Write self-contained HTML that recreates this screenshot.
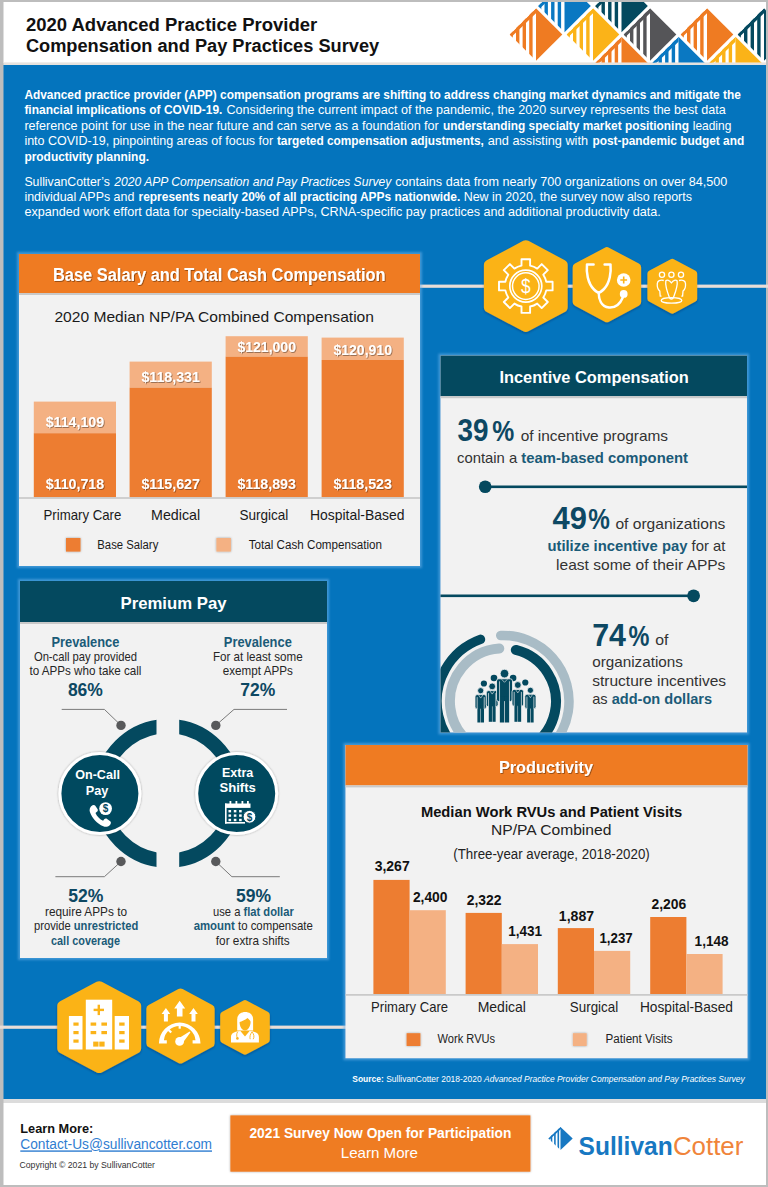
<!DOCTYPE html><html><head><meta charset="utf-8"><title>2020 Advanced Practice Provider Compensation and Pay Practices Survey</title>
<style>html,body{margin:0;padding:0;background:#fff;}body{width:768px;height:1187px;overflow:hidden;}svg{display:block;}text{font-family:'Liberation Sans', Arial, sans-serif;}</style></head><body>
<svg width="768" height="1187" viewBox="0 0 768 1187">
<defs>
<filter id="sh" x="-10%" y="-10%" width="120%" height="120%"><feMorphology in="SourceAlpha" operator="dilate" radius="1.5" result="d"/><feGaussianBlur in="d" stdDeviation="1" result="b"/><feFlood flood-color="#6fb3ea" flood-opacity="0.55"/><feComposite in2="b" operator="in" result="g"/><feMerge><feMergeNode in="g"/><feMergeNode in="SourceGraphic"/></feMerge></filter>
<filter id="sh2" x="-60%" y="-60%" width="220%" height="220%"><feDropShadow dx="0" dy="1.2" stdDeviation="1.2" flood-color="#00223a" flood-opacity="0.35"/></filter>
<filter id="ts" x="-10%" y="-30%" width="120%" height="160%"><feDropShadow dx="0.8" dy="0.8" stdDeviation="0.5" flood-color="#000" flood-opacity="0.45"/></filter>
<filter id="cs" x="-20%" y="-20%" width="140%" height="140%"><feDropShadow dx="0" dy="0" stdDeviation="1.2" flood-color="#000" flood-opacity="0.35"/></filter>
<clipPath id="hdr"><rect x="3" y="2" width="763" height="60.4"/></clipPath>
</defs>
<rect x="0" y="0" width="768" height="1187" fill="#bdbdbd"/>
<rect x="3.5" y="2" width="762.5" height="61" fill="#ffffff"/>
<rect x="3.5" y="62.4" width="762.5" height="2.6" fill="#e6e2de"/>
<rect x="3.5" y="65" width="762.5" height="1034" fill="#0474bd"/>
<rect x="3.5" y="1099" width="762.5" height="4" fill="#dcdcdc"/>
<rect x="3.5" y="1103" width="762.5" height="82" fill="#ffffff"/>
<text x="25.9" y="30.8" font-size="18" fill="#111" font-weight="bold" textLength="291.3" lengthAdjust="spacingAndGlyphs">2020 Advanced Practice Provider</text>
<text x="25.9" y="51.9" font-size="18" fill="#111" font-weight="bold" textLength="353.3" lengthAdjust="spacingAndGlyphs">Compensation and Pay Practices Survey</text>
<g clip-path="url(#hdr)">
<polygon points="536,8.2 562.3,34.5 536,60.8" fill="#ef7b22"/>
<clipPath id="dl0"><polygon points="509.7,34.5 536,8.2 536,60.8"/></clipPath>
<g clip-path="url(#dl0)" fill="#ef7b22"><polygon points="508.7,35.5 537,7.199999999999999 537,12.2 508.7,39.5"/><rect x="529.20" y="6.199999999999999" width="3.4" height="56.6"/><rect x="522.60" y="6.199999999999999" width="3.4" height="56.6"/><rect x="516.00" y="6.199999999999999" width="3.4" height="56.6"/><rect x="509.40" y="6.199999999999999" width="3.4" height="56.6"/></g>
<polygon points="593,8.2 619.3,34.5 593,60.8" fill="#fbb318"/>
<clipPath id="dl1"><polygon points="566.7,34.5 593,8.2 593,60.8"/></clipPath>
<g clip-path="url(#dl1)" fill="#fbb318"><polygon points="565.7,35.5 594,7.199999999999999 594,12.2 565.7,39.5"/><rect x="586.20" y="6.199999999999999" width="3.4" height="56.6"/><rect x="579.60" y="6.199999999999999" width="3.4" height="56.6"/><rect x="573.00" y="6.199999999999999" width="3.4" height="56.6"/><rect x="566.40" y="6.199999999999999" width="3.4" height="56.6"/></g>
<polygon points="650,8.2 676.3,34.5 650,60.8" fill="#555558"/>
<clipPath id="dl2"><polygon points="623.7,34.5 650,8.2 650,60.8"/></clipPath>
<g clip-path="url(#dl2)" fill="#555558"><polygon points="622.7,35.5 651,7.199999999999999 651,12.2 622.7,39.5"/><rect x="643.20" y="6.199999999999999" width="3.4" height="56.6"/><rect x="636.60" y="6.199999999999999" width="3.4" height="56.6"/><rect x="630.00" y="6.199999999999999" width="3.4" height="56.6"/><rect x="623.40" y="6.199999999999999" width="3.4" height="56.6"/></g>
<polygon points="707,8.2 733.3,34.5 707,60.8" fill="#ef7b22"/>
<clipPath id="dl3"><polygon points="680.7,34.5 707,8.2 707,60.8"/></clipPath>
<g clip-path="url(#dl3)" fill="#ef7b22"><polygon points="679.7,35.5 708,7.199999999999999 708,12.2 679.7,39.5"/><rect x="700.20" y="6.199999999999999" width="3.4" height="56.6"/><rect x="693.60" y="6.199999999999999" width="3.4" height="56.6"/><rect x="687.00" y="6.199999999999999" width="3.4" height="56.6"/><rect x="680.40" y="6.199999999999999" width="3.4" height="56.6"/></g>
<polygon points="764,8.2 790.3,34.5 764,60.8" fill="#04495f"/>
<clipPath id="dl4"><polygon points="737.7,34.5 764,8.2 764,60.8"/></clipPath>
<g clip-path="url(#dl4)" fill="#04495f"><polygon points="736.7,35.5 765,7.199999999999999 765,12.2 736.7,39.5"/><rect x="757.20" y="6.199999999999999" width="3.4" height="56.6"/><rect x="750.60" y="6.199999999999999" width="3.4" height="56.6"/><rect x="744.00" y="6.199999999999999" width="3.4" height="56.6"/><rect x="737.40" y="6.199999999999999" width="3.4" height="56.6"/></g>
<polygon points="564.5,-20.3 590.8,6 564.5,32.3" fill="#0a78c2"/>
<clipPath id="dl5"><polygon points="538.2,6 564.5,-20.3 564.5,32.3"/></clipPath>
<g clip-path="url(#dl5)" fill="#0a78c2"><polygon points="537.2,7 565.5,-21.3 565.5,-16.3 537.2,11.0"/><rect x="557.70" y="-22.3" width="3.4" height="56.6"/><rect x="551.10" y="-22.3" width="3.4" height="56.6"/><rect x="544.50" y="-22.3" width="3.4" height="56.6"/><rect x="537.90" y="-22.3" width="3.4" height="56.6"/></g>
<polygon points="621.5,-20.3 647.8,6 621.5,32.3" fill="#04495f"/>
<clipPath id="dl6"><polygon points="595.2,6 621.5,-20.3 621.5,32.3"/></clipPath>
<g clip-path="url(#dl6)" fill="#04495f"><polygon points="594.2,7 622.5,-21.3 622.5,-16.3 594.2,11.0"/><rect x="614.70" y="-22.3" width="3.4" height="56.6"/><rect x="608.10" y="-22.3" width="3.4" height="56.6"/><rect x="601.50" y="-22.3" width="3.4" height="56.6"/><rect x="594.90" y="-22.3" width="3.4" height="56.6"/></g>
<polygon points="621.5,36.7 647.8,63 621.5,89.3" fill="#ef7b22"/>
<clipPath id="dl7"><polygon points="595.2,63 621.5,36.7 621.5,89.3"/></clipPath>
<g clip-path="url(#dl7)" fill="#ef7b22"><polygon points="594.2,64 622.5,35.7 622.5,40.7 594.2,68.0"/><rect x="614.70" y="34.7" width="3.4" height="56.6"/><rect x="608.10" y="34.7" width="3.4" height="56.6"/><rect x="601.50" y="34.7" width="3.4" height="56.6"/><rect x="594.90" y="34.7" width="3.4" height="56.6"/></g>
<polygon points="678.5,36.7 704.8,63 678.5,89.3" fill="#0a78c2"/>
<clipPath id="dl8"><polygon points="652.2,63 678.5,36.7 678.5,89.3"/></clipPath>
<g clip-path="url(#dl8)" fill="#0a78c2"><polygon points="651.2,64 679.5,35.7 679.5,40.7 651.2,68.0"/><rect x="671.70" y="34.7" width="3.4" height="56.6"/><rect x="665.10" y="34.7" width="3.4" height="56.6"/><rect x="658.50" y="34.7" width="3.4" height="56.6"/><rect x="651.90" y="34.7" width="3.4" height="56.6"/></g>
<polygon points="735.5,36.7 761.8,63 735.5,89.3" fill="#fbb318"/>
<clipPath id="dl9"><polygon points="709.2,63 735.5,36.7 735.5,89.3"/></clipPath>
<g clip-path="url(#dl9)" fill="#fbb318"><polygon points="708.2,64 736.5,35.7 736.5,40.7 708.2,68.0"/><rect x="728.70" y="34.7" width="3.4" height="56.6"/><rect x="722.10" y="34.7" width="3.4" height="56.6"/><rect x="715.50" y="34.7" width="3.4" height="56.6"/><rect x="708.90" y="34.7" width="3.4" height="56.6"/></g>
</g>
<text x="24.4" y="99.0" font-size="13" fill="#ffffff" font-weight="bold" textLength="716.5" lengthAdjust="spacingAndGlyphs">Advanced practice provider (APP) compensation programs are shifting to address changing market dynamics and mitigate the</text>
<text x="24.4" y="114.4" font-size="13" fill="#ffffff" font-weight="bold" textLength="198.0" lengthAdjust="spacingAndGlyphs">financial implications of COVID-19.</text>
<text x="226.4" y="114.4" font-size="13" fill="#ffffff" textLength="499.4" lengthAdjust="spacingAndGlyphs">Considering the current impact of the pandemic, the 2020 survey represents the best data</text>
<text x="24.4" y="129.8" font-size="13" fill="#ffffff" textLength="414.4" lengthAdjust="spacingAndGlyphs">reference point for use in the near future and can serve as a foundation for</text>
<text x="442.9" y="129.8" font-size="13" fill="#ffffff" font-weight="bold" textLength="246.0" lengthAdjust="spacingAndGlyphs">understanding specialty market positioning</text>
<text x="692.8" y="129.8" font-size="13" fill="#ffffff" textLength="38.5" lengthAdjust="spacingAndGlyphs">leading</text>
<text x="24.4" y="145.2" font-size="13" fill="#ffffff" textLength="248.8" lengthAdjust="spacingAndGlyphs">into COVID-19, pinpointing areas of focus for</text>
<text x="276.9" y="145.2" font-size="13" fill="#ffffff" font-weight="bold" textLength="206.9" lengthAdjust="spacingAndGlyphs">targeted compensation adjustments,</text>
<text x="487.7" y="145.2" font-size="13" fill="#ffffff" textLength="100.3" lengthAdjust="spacingAndGlyphs">and assisting with</text>
<text x="592.4" y="145.2" font-size="13" fill="#ffffff" font-weight="bold" textLength="151.8" lengthAdjust="spacingAndGlyphs">post-pandemic budget and</text>
<text x="24.4" y="160.6" font-size="13" fill="#ffffff" font-weight="bold" textLength="124.6" lengthAdjust="spacingAndGlyphs">productivity planning.</text>
<text x="24.4" y="185.6" font-size="13" fill="#ffffff" textLength="85.5" lengthAdjust="spacingAndGlyphs">SullivanCotter’s</text>
<text x="114.3" y="185.6" font-size="13" fill="#ffffff" font-style="italic" textLength="277.0" lengthAdjust="spacingAndGlyphs">2020 APP Compensation and Pay Practices Survey</text>
<text x="395.2" y="185.6" font-size="13" fill="#ffffff" textLength="332.2" lengthAdjust="spacingAndGlyphs">contains data from nearly 700 organizations on over 84,500</text>
<text x="24.4" y="201.0" font-size="13" fill="#ffffff" textLength="110.0" lengthAdjust="spacingAndGlyphs">individual APPs and</text>
<text x="138.5" y="201.0" font-size="13" fill="#ffffff" font-weight="bold" textLength="321.8" lengthAdjust="spacingAndGlyphs">represents nearly 20% of all practicing APPs nationwide.</text>
<text x="463.7" y="201.0" font-size="13" fill="#ffffff" textLength="228.2" lengthAdjust="spacingAndGlyphs">New in 2020, the survey now also reports</text>
<text x="24.4" y="216.4" font-size="13" fill="#ffffff" textLength="636.4" lengthAdjust="spacingAndGlyphs">expanded work effort data for specialty-based APPs, CRNA-specific pay practices and additional productivity data.</text>
<rect x="420" y="284.6" width="348" height="3.2" fill="#e8ddd7"/>
<rect x="0" y="1025.6" width="346" height="3.2" fill="#e8ddd7"/>
<g filter="url(#sh)"><rect x="19" y="254" width="401" height="312" fill="#f2f2f2"/></g>
<rect x="19" y="254" width="401" height="39" fill="#ef7b22"/>
<rect x="19" y="293" width="401" height="2" fill="#c9c9c9"/>
<text x="219.3" y="281.3" font-size="17.5" fill="#fff" font-weight="bold" text-anchor="middle" textLength="332.6" lengthAdjust="spacingAndGlyphs" filter="url(#ts)">Base Salary and Total Cash Compensation</text>
<text x="214.2" y="321.5" font-size="15" fill="#1a1a1a" text-anchor="middle" textLength="319.5" lengthAdjust="spacingAndGlyphs">2020 Median NP/PA Combined Compensation</text>
<rect x="33.8" y="401.6" width="82.2" height="31.599999999999966" fill="#f4b183"/>
<rect x="33.8" y="433.2" width="82.2" height="64.0" fill="#ed7d31"/>
<text x="74.9" y="426.8" font-size="14" fill="#fff" font-weight="bold" text-anchor="middle" textLength="58.5" lengthAdjust="spacingAndGlyphs" filter="url(#ts)">$114,109</text>
<text x="74.9" y="488.6" font-size="14" fill="#fff" font-weight="bold" text-anchor="middle" textLength="58.5" lengthAdjust="spacingAndGlyphs" filter="url(#ts)">$110,718</text>
<rect x="129.6" y="361.6" width="82.2" height="26.0" fill="#f4b183"/>
<rect x="129.6" y="387.6" width="82.2" height="109.59999999999997" fill="#ed7d31"/>
<text x="170.7" y="382.3" font-size="14" fill="#fff" font-weight="bold" text-anchor="middle" textLength="58.5" lengthAdjust="spacingAndGlyphs" filter="url(#ts)">$118,331</text>
<text x="170.7" y="488.6" font-size="14" fill="#fff" font-weight="bold" text-anchor="middle" textLength="58.5" lengthAdjust="spacingAndGlyphs" filter="url(#ts)">$115,627</text>
<rect x="225.6" y="336.2" width="82.2" height="20.400000000000034" fill="#f4b183"/>
<rect x="225.6" y="356.6" width="82.2" height="140.59999999999997" fill="#ed7d31"/>
<text x="266.7" y="351.9" font-size="14" fill="#fff" font-weight="bold" text-anchor="middle" textLength="58.5" lengthAdjust="spacingAndGlyphs" filter="url(#ts)">$121,000</text>
<text x="266.7" y="488.6" font-size="14" fill="#fff" font-weight="bold" text-anchor="middle" textLength="58.5" lengthAdjust="spacingAndGlyphs" filter="url(#ts)">$118,893</text>
<rect x="321.6" y="337.6" width="82.2" height="22.399999999999977" fill="#f4b183"/>
<rect x="321.6" y="360.0" width="82.2" height="137.2" fill="#ed7d31"/>
<text x="362.7" y="355.4" font-size="14" fill="#fff" font-weight="bold" text-anchor="middle" textLength="58.5" lengthAdjust="spacingAndGlyphs" filter="url(#ts)">$120,910</text>
<text x="362.7" y="488.6" font-size="14" fill="#fff" font-weight="bold" text-anchor="middle" textLength="58.5" lengthAdjust="spacingAndGlyphs" filter="url(#ts)">$118,523</text>
<rect x="19" y="497.2" width="401" height="1.6" fill="#c6c6c6"/>
<text x="82.4" y="519.8" font-size="14.5" fill="#1a1a1a" text-anchor="middle" textLength="77.8" lengthAdjust="spacingAndGlyphs">Primary Care</text>
<text x="175.6" y="519.8" font-size="14.5" fill="#1a1a1a" text-anchor="middle" textLength="49.2" lengthAdjust="spacingAndGlyphs">Medical</text>
<text x="263.9" y="519.8" font-size="14.5" fill="#1a1a1a" text-anchor="middle" textLength="49.0" lengthAdjust="spacingAndGlyphs">Surgical</text>
<text x="357.2" y="519.8" font-size="14.5" fill="#1a1a1a" text-anchor="middle" textLength="94.5" lengthAdjust="spacingAndGlyphs">Hospital-Based</text>
<rect x="66" y="538" width="14.5" height="13.6" fill="#ed7d31" filter="url(#cs)"/>
<text x="97.3" y="548.5" font-size="12" fill="#1a1a1a" textLength="61" lengthAdjust="spacingAndGlyphs">Base Salary</text>
<rect x="216.4" y="538" width="14.5" height="13.6" fill="#f4b183" filter="url(#cs)"/>
<text x="248.8" y="548.5" font-size="12" fill="#1a1a1a" textLength="133.2" lengthAdjust="spacingAndGlyphs">Total Cash Compensation</text>
<g filter="url(#sh)"><rect x="20" y="581" width="307" height="377" fill="#f2f2f2"/></g>
<rect x="20" y="581" width="307" height="41" fill="#04495f"/>
<rect x="20" y="622" width="307" height="2" fill="#c9c9c9"/>
<text x="173.5" y="609" font-size="17" fill="#fff" font-weight="bold" text-anchor="middle" textLength="106" lengthAdjust="spacingAndGlyphs">Premium Pay</text>
<text x="85.4" y="646.6" font-size="14.5" fill="#1b5b78" font-weight="bold" text-anchor="middle" textLength="68" lengthAdjust="spacingAndGlyphs">Prevalence</text>
<text x="85.4" y="660.7" font-size="13" fill="#262626" text-anchor="middle" textLength="103" lengthAdjust="spacingAndGlyphs">On-call pay provided</text>
<text x="85.4" y="674.9" font-size="13" fill="#262626" text-anchor="middle" textLength="112" lengthAdjust="spacingAndGlyphs">to APPs who take call</text>
<text x="85.4" y="696.3" font-size="18" fill="#0d4863" font-weight="bold" text-anchor="middle" textLength="35" lengthAdjust="spacingAndGlyphs">86%</text>
<text x="257.8" y="646.6" font-size="14.5" fill="#1b5b78" font-weight="bold" text-anchor="middle" textLength="68" lengthAdjust="spacingAndGlyphs">Prevalence</text>
<text x="257.8" y="660.7" font-size="13" fill="#262626" text-anchor="middle" textLength="89.6" lengthAdjust="spacingAndGlyphs">For at least some</text>
<text x="257.8" y="674.9" font-size="13" fill="#262626" text-anchor="middle" textLength="70" lengthAdjust="spacingAndGlyphs">exempt APPs</text>
<text x="257.8" y="696.3" font-size="18" fill="#0d4863" font-weight="bold" text-anchor="middle" textLength="35" lengthAdjust="spacingAndGlyphs">72%</text>
<clipPath id="ringL"><rect x="0" y="600" width="156.5" height="400"/></clipPath>
<clipPath id="ringR"><rect x="179.2" y="600" width="200" height="400"/></clipPath>
<circle cx="168" cy="793.3" r="67.2" fill="none" stroke="#04495f" stroke-width="14.4" clip-path="url(#ringL)"/>
<circle cx="168" cy="793.3" r="67.2" fill="none" stroke="#04495f" stroke-width="14.4" clip-path="url(#ringR)"/>
<polyline points="121,725.4 104.4,709.4 61.7,709.4" fill="none" stroke="#7a7a7a" stroke-width="1"/>
<polyline points="121,861.5 104.4,876.7 55.4,876.7" fill="none" stroke="#7a7a7a" stroke-width="1"/>
<polyline points="215.8,725.4 234,709.4 287,709.4" fill="none" stroke="#7a7a7a" stroke-width="1"/>
<polyline points="215.8,861.5 231.9,876.7 279.8,876.7" fill="none" stroke="#7a7a7a" stroke-width="1"/>
<circle cx="121" cy="725.4" r="4.7" fill="#58595b"/>
<circle cx="121" cy="861.5" r="4.7" fill="#58595b"/>
<circle cx="215.8" cy="725.4" r="4.7" fill="#58595b"/>
<circle cx="215.8" cy="861.5" r="4.7" fill="#58595b"/>
<circle cx="99.9" cy="793.6" r="40" fill="#04495f" stroke="#fff" stroke-width="3" filter="url(#cs)"/>
<circle cx="236.7" cy="793.6" r="40" fill="#04495f" stroke="#fff" stroke-width="3" filter="url(#cs)"/>
<text x="97.6" y="778.7" font-size="13.5" fill="#fff" font-weight="bold" text-anchor="middle" textLength="44.8" lengthAdjust="spacingAndGlyphs">On-Call</text>
<text x="97.0" y="794.6" font-size="13.5" fill="#fff" font-weight="bold" text-anchor="middle" textLength="22.6" lengthAdjust="spacingAndGlyphs">Pay</text>
<text x="237.6" y="776.7" font-size="13.5" fill="#fff" font-weight="bold" text-anchor="middle" textLength="31.3" lengthAdjust="spacingAndGlyphs">Extra</text>
<text x="237.6" y="792.3" font-size="13.5" fill="#fff" font-weight="bold" text-anchor="middle" textLength="36.4" lengthAdjust="spacingAndGlyphs">Shifts</text>
<path d="M91.2,806.2 c1.6,-1.4 3.2,-1.6 4.1,-0.4 l2.2,3.2 c0.7,1.1 0.3,2.3 -0.9,3.1 l-1.1,0.8 c1.4,3.4 4.2,6.3 7.6,7.8 l0.9,-1.1 c0.8,-1.1 2.1,-1.4 3.1,-0.7 l3.1,2.3 c1.1,0.9 0.9,2.6 -0.5,4 c-1.7,1.6 -4.2,2.1 -6.4,1.1 c-6.3,-2.8 -11.2,-7.9 -13.4,-14.3 c-0.7,-2.2 0,-4.5 1.2,-5.8 z" fill="#fff"/>
<circle cx="105.6" cy="808.6" r="6.4" fill="#fff"/>
<text x="105.6" y="812.4" font-size="10" fill="#04495f" font-weight="bold" text-anchor="middle">$</text>
<g fill="#fff">
<rect x="225" y="803.5" width="25.5" height="4.4"/>
<rect x="225" y="803.5" width="1.6" height="20.1"/><rect x="225" y="822" width="20" height="1.6"/>
<rect x="229.5" y="801" width="1.8" height="4"/>
<rect x="235.5" y="801" width="1.8" height="4"/>
<rect x="241.5" y="801" width="1.8" height="4"/>
<rect x="247.0" y="801" width="1.8" height="4"/>
<rect x="228.5" y="810.0" width="2.6" height="2.4"/>
<rect x="228.5" y="814.4" width="2.6" height="2.4"/>
<rect x="228.5" y="818.8" width="2.6" height="2.4"/>
<rect x="233.8" y="810.0" width="2.6" height="2.4"/>
<rect x="233.8" y="814.4" width="2.6" height="2.4"/>
<rect x="233.8" y="818.8" width="2.6" height="2.4"/>
<rect x="239.1" y="810.0" width="2.6" height="2.4"/>
<rect x="239.1" y="814.4" width="2.6" height="2.4"/>
<rect x="239.1" y="818.8" width="2.6" height="2.4"/>
</g>
<circle cx="249.5" cy="816.8" r="6.4" fill="#fff" stroke="#04495f" stroke-width="1"/>
<text x="249.5" y="820.6" font-size="10" fill="#04495f" font-weight="bold" text-anchor="middle">$</text>
<text x="85.8" y="901.5" font-size="18" fill="#0d4863" font-weight="bold" text-anchor="middle" textLength="35.2" lengthAdjust="spacingAndGlyphs">52%</text>
<text x="86.0" y="915.6" font-size="13" fill="#262626" text-anchor="middle" textLength="82" lengthAdjust="spacingAndGlyphs">require APPs to</text>
<text x="86.2" y="929.7" font-size="13" fill="#262626" text-anchor="middle" textLength="104.3" lengthAdjust="spacingAndGlyphs"><tspan>provide </tspan><tspan font-weight="bold" fill="#1b5b78">unrestricted</tspan></text>
<text x="85.5" y="944.7" font-size="13" fill="#1b5b78" font-weight="bold" text-anchor="middle" textLength="69" lengthAdjust="spacingAndGlyphs">call coverage</text>
<text x="253.5" y="901.5" font-size="18" fill="#0d4863" font-weight="bold" text-anchor="middle" textLength="35" lengthAdjust="spacingAndGlyphs">59%</text>
<text x="253.4" y="915.6" font-size="13" fill="#262626" text-anchor="middle" textLength="80.7" lengthAdjust="spacingAndGlyphs"><tspan>use a </tspan><tspan font-weight="bold" fill="#1b5b78">flat dollar</tspan></text>
<text x="253.2" y="929.7" font-size="13" fill="#262626" text-anchor="middle" textLength="119.1" lengthAdjust="spacingAndGlyphs"><tspan font-weight="bold" fill="#1b5b78">amount</tspan><tspan> to compensate</tspan></text>
<text x="252.8" y="944.7" font-size="13" fill="#262626" text-anchor="middle" textLength="73.9" lengthAdjust="spacingAndGlyphs">for extra shifts</text>
<g filter="url(#sh)"><rect x="440.5" y="355.6" width="306.5" height="376.8" fill="#f2f2f2"/></g>
<rect x="440.5" y="355.6" width="306.5" height="40.6" fill="#04495f"/>
<rect x="440.5" y="396.2" width="306.5" height="2" fill="#c9c9c9"/>
<text x="594.1" y="383.1" font-size="16.5" fill="#fff" font-weight="bold" text-anchor="middle" textLength="189.4" lengthAdjust="spacingAndGlyphs">Incentive Compensation</text>
<text x="457.5" y="441.2" font-size="32" fill="#0d4863" font-weight="bold" textLength="31.0" lengthAdjust="spacingAndGlyphs">39</text>
<text x="492.3" y="441.2" font-size="30" fill="#0d4863" font-weight="bold" textLength="22.0" lengthAdjust="spacingAndGlyphs">%</text>
<text x="520.7" y="441.2" font-size="15" fill="#333" textLength="147.4" lengthAdjust="spacingAndGlyphs">of incentive programs</text>
<text x="457" y="462.6" font-size="15" fill="#333" textLength="231" lengthAdjust="spacingAndGlyphs"><tspan>contain a </tspan><tspan font-weight="bold" fill="#1b5b78">team-based component</tspan></text>
<rect x="485" y="485.5" width="262" height="2.6" fill="#04495f"/><circle cx="485.2" cy="486.8" r="6.3" fill="#04495f"/>
<text x="552.5" y="528.6" font-size="32" fill="#0d4863" font-weight="bold" textLength="34.4" lengthAdjust="spacingAndGlyphs">49</text>
<text x="588.2" y="528.6" font-size="30" fill="#0d4863" font-weight="bold" textLength="21.6" lengthAdjust="spacingAndGlyphs">%</text>
<text x="725.4" y="528.6" font-size="15" fill="#333" text-anchor="end" textLength="110" lengthAdjust="spacingAndGlyphs">of organizations</text>
<text x="725.4" y="550.8" font-size="15" fill="#333" text-anchor="end" textLength="178" lengthAdjust="spacingAndGlyphs"><tspan font-weight="bold" fill="#1b5b78">utilize incentive pay</tspan><tspan> for at</tspan></text>
<text x="725.4" y="569.8" font-size="15" fill="#333" text-anchor="end" textLength="169.3" lengthAdjust="spacingAndGlyphs">least some of their APPs</text>
<rect x="440.5" y="594.5" width="253" height="2.6" fill="#04495f"/><circle cx="693.6" cy="595.8" r="6.4" fill="#04495f"/>
<text x="592.2" y="645.5" font-size="32" fill="#0d4863" font-weight="bold" textLength="33.8" lengthAdjust="spacingAndGlyphs">74</text>
<text x="628.6" y="645.5" font-size="30" fill="#0d4863" font-weight="bold" textLength="20.9" lengthAdjust="spacingAndGlyphs">%</text>
<text x="655.3" y="645.4" font-size="15" fill="#333" textLength="13.2" lengthAdjust="spacingAndGlyphs">of</text>
<text x="592.2" y="667.1" font-size="15" fill="#333" textLength="90.7" lengthAdjust="spacingAndGlyphs">organizations</text>
<text x="592.2" y="686.0" font-size="15" fill="#333" textLength="133.9" lengthAdjust="spacingAndGlyphs">structure incentives</text>
<text x="592.2" y="704.0" font-size="15" fill="#333" textLength="119.9" lengthAdjust="spacingAndGlyphs"><tspan>as </tspan><tspan font-weight="bold" fill="#1b5b78">add-on dollars</tspan></text>
<clipPath id="inc"><rect x="440.5" y="600" width="306.5" height="132.4"/></clipPath>
<g clip-path="url(#inc)" fill="none" stroke-linecap="round">
<path d="M500.70,635.44 A66,66 0 1 1 480.43,763.42" stroke="#a9bcc6" stroke-width="9.5"/>
<path d="M508.75,767.15 A66,66 0 0 1 480.43,639.38" stroke="#04495f" stroke-width="9.5"/>
<path d="M512.20,753.59 A53,53 0 1 1 499.30,648.53" stroke="#a9bcc6" stroke-width="10"/>
<path d="M515.82,649.97 A53,53 0 0 1 493.80,753.59" stroke="#04495f" stroke-width="10"/>
</g>
<g fill="#04495f">
<circle cx="483.9" cy="683.5" r="3.1"/>
<circle cx="494" cy="678" r="3.3"/>
<circle cx="513.1" cy="678" r="3.3"/>
<circle cx="525.3" cy="682.5" r="3.1"/>
<circle cx="480.7" cy="690.7" r="3.1" stroke="#f2f2f2" stroke-width="0.8"/>
<rect x="475.00" y="694.60" width="11.40" height="14.51" rx="2.2" stroke="#f2f2f2" stroke-width="0.8"/>
<rect x="477.39" y="705.76" width="3.08" height="16.74"/>
<rect x="480.93" y="705.76" width="3.08" height="16.74"/>
<path d="M477.17,697.10 V709.11 M484.23,697.10 V709.11" stroke="#f2f2f2" stroke-width="0.7"/>
<path d="M478.65,695.10 L480.70,698.10 L482.75,695.10" fill="none" stroke="#f2f2f2" stroke-width="0.6"/>
<circle cx="492.2" cy="686.4" r="3.4" stroke="#f2f2f2" stroke-width="0.8"/>
<rect x="486.30" y="690.60" width="11.80" height="16.22" rx="2.2" stroke="#f2f2f2" stroke-width="0.8"/>
<rect x="488.78" y="703.08" width="3.19" height="18.72"/>
<rect x="492.44" y="703.08" width="3.19" height="18.72"/>
<path d="M488.54,693.10 V706.82 M495.86,693.10 V706.82" stroke="#f2f2f2" stroke-width="0.7"/>
<path d="M490.08,691.10 L492.20,694.10 L494.32,691.10" fill="none" stroke="#f2f2f2" stroke-width="0.6"/>
<circle cx="504.5" cy="673.6" r="4.3" stroke="#f2f2f2" stroke-width="0.8"/>
<rect x="496.50" y="678.80" width="16.00" height="22.72" rx="2.2" stroke="#f2f2f2" stroke-width="0.8"/>
<rect x="499.86" y="696.28" width="4.32" height="26.22"/>
<rect x="504.82" y="696.28" width="4.32" height="26.22"/>
<path d="M499.54,681.30 V701.52 M509.46,681.30 V701.52" stroke="#f2f2f2" stroke-width="0.7"/>
<path d="M501.62,679.30 L504.50,682.30 L507.38,679.30" fill="none" stroke="#f2f2f2" stroke-width="0.6"/>
<circle cx="517.8" cy="685.0" r="3.4" stroke="#f2f2f2" stroke-width="0.8"/>
<rect x="512.00" y="689.40" width="11.60" height="16.85" rx="2.2" stroke="#f2f2f2" stroke-width="0.8"/>
<rect x="514.44" y="702.36" width="3.13" height="19.44"/>
<rect x="518.03" y="702.36" width="3.13" height="19.44"/>
<path d="M514.20,691.90 V706.25 M521.40,691.90 V706.25" stroke="#f2f2f2" stroke-width="0.7"/>
<path d="M515.71,689.90 L517.80,692.90 L519.89,689.90" fill="none" stroke="#f2f2f2" stroke-width="0.6"/>
<circle cx="530.4" cy="690.3" r="3.1" stroke="#f2f2f2" stroke-width="0.8"/>
<rect x="524.80" y="694.20" width="11.20" height="14.72" rx="2.2" stroke="#f2f2f2" stroke-width="0.8"/>
<rect x="527.15" y="705.52" width="3.02" height="16.98"/>
<rect x="530.62" y="705.52" width="3.02" height="16.98"/>
<path d="M526.93,696.70 V708.92 M533.87,696.70 V708.92" stroke="#f2f2f2" stroke-width="0.7"/>
<path d="M528.38,694.70 L530.40,697.70 L532.42,694.70" fill="none" stroke="#f2f2f2" stroke-width="0.6"/>
</g>
<g filter="url(#sh)"><rect x="345.5" y="745" width="402" height="313.2" fill="#f2f2f2"/></g>
<rect x="345.5" y="745" width="402" height="40.4" fill="#ef7b22"/>
<rect x="345.5" y="785.4" width="402" height="2" fill="#c9c9c9"/>
<text x="546.0" y="772.7" font-size="17" fill="#fff" font-weight="bold" text-anchor="middle" textLength="94.2" lengthAdjust="spacingAndGlyphs" filter="url(#ts)">Productivity</text>
<text x="551.5" y="816.7" font-size="15" fill="#111" font-weight="bold" text-anchor="middle" textLength="261.2" lengthAdjust="spacingAndGlyphs">Median Work RVUs and Patient Visits</text>
<text x="551.2" y="835.0" font-size="15" fill="#222" text-anchor="middle" textLength="120.4" lengthAdjust="spacingAndGlyphs">NP/PA Combined</text>
<text x="551.5" y="858.6" font-size="14" fill="#222" text-anchor="middle" textLength="196.4" lengthAdjust="spacingAndGlyphs">(Three-year average, 2018-2020)</text>
<rect x="373.4" y="879.9" width="36.2" height="114.2" fill="#ed7d31"/>
<rect x="409.59999999999997" y="910.2" width="36.2" height="83.9" fill="#f4b183"/>
<text x="409.6" y="1011.9" font-size="14.5" fill="#222" text-anchor="middle" textLength="77" lengthAdjust="spacingAndGlyphs">Primary Care</text>
<rect x="465.6" y="912.9" width="36.2" height="81.2" fill="#ed7d31"/>
<rect x="501.8" y="944.1" width="36.2" height="50.0" fill="#f4b183"/>
<text x="501.8" y="1011.9" font-size="14.5" fill="#222" text-anchor="middle" textLength="48.3" lengthAdjust="spacingAndGlyphs">Medical</text>
<rect x="557.8" y="928.1" width="36.2" height="66.0" fill="#ed7d31"/>
<rect x="594.0" y="950.9" width="36.2" height="43.2" fill="#f4b183"/>
<text x="594.0" y="1011.9" font-size="14.5" fill="#222" text-anchor="middle" textLength="48.3" lengthAdjust="spacingAndGlyphs">Surgical</text>
<rect x="650.2" y="917.0" width="36.2" height="77.1" fill="#ed7d31"/>
<rect x="686.4000000000001" y="954.0" width="36.2" height="40.1" fill="#f4b183"/>
<text x="686.4" y="1011.9" font-size="14.5" fill="#222" text-anchor="middle" textLength="93" lengthAdjust="spacingAndGlyphs">Hospital-Based</text>
<text x="374.7" y="871.2" font-size="14.5" fill="#111" font-weight="bold" textLength="35" lengthAdjust="spacingAndGlyphs">3,267</text>
<text x="412.9" y="902.1" font-size="14.5" fill="#111" font-weight="bold" textLength="34.6" lengthAdjust="spacingAndGlyphs">2,400</text>
<text x="466.7" y="905.2" font-size="14.5" fill="#111" font-weight="bold" textLength="34.8" lengthAdjust="spacingAndGlyphs">2,322</text>
<text x="508.3" y="936" font-size="14.5" fill="#111" font-weight="bold" textLength="33.8" lengthAdjust="spacingAndGlyphs">1,431</text>
<text x="558.8" y="920.6" font-size="14.5" fill="#111" font-weight="bold" textLength="35.3" lengthAdjust="spacingAndGlyphs">1,887</text>
<text x="599.4" y="942.5" font-size="14.5" fill="#111" font-weight="bold" textLength="33.3" lengthAdjust="spacingAndGlyphs">1,237</text>
<text x="651.5" y="908.5" font-size="14.5" fill="#111" font-weight="bold" textLength="34.75" lengthAdjust="spacingAndGlyphs">2,206</text>
<text x="694.6" y="946" font-size="14.5" fill="#111" font-weight="bold" textLength="33.9" lengthAdjust="spacingAndGlyphs">1,148</text>
<rect x="345.5" y="994.1" width="402" height="1.6" fill="#c6c6c6"/>
<rect x="406.6" y="1033.2" width="13.8" height="12.8" fill="#ed7d31" filter="url(#cs)"/>
<text x="437.6" y="1043.3" font-size="12" fill="#222" textLength="57.5" lengthAdjust="spacingAndGlyphs">Work RVUs</text>
<rect x="572.9" y="1033.2" width="13.8" height="12.8" fill="#f4b183" filter="url(#cs)"/>
<text x="605.6" y="1043.3" font-size="12" fill="#222" textLength="67" lengthAdjust="spacingAndGlyphs">Patient Visits</text>
<text x="352.3" y="1081.8" font-size="9" fill="#fff" textLength="392.4" lengthAdjust="spacingAndGlyphs"><tspan font-weight="bold">Source:</tspan><tspan> SullivanCotter 2018-2020 </tspan><tspan font-style="italic">Advanced Practice Provider Compensation and Pay Practices Survey</tspan></text>
<path d="M523.24,240.87 A5.447,5.447 0 0 1 528.36,240.87 L564.81,260.26 A5.447,5.447 0 0 1 567.70,265.07 L567.70,307.13 A5.447,5.447 0 0 1 564.81,311.94 L528.36,331.33 A5.447,5.447 0 0 1 523.24,331.33 L486.79,311.94 A5.447,5.447 0 0 1 483.90,307.13 L483.90,265.07 A5.447,5.447 0 0 1 486.79,260.26 Z" fill="#fbb318" filter="url(#sh2)"/>
<path d="M604.80,247.65 A4.452500000000001,4.452500000000001 0 0 1 609.00,247.65 L638.80,263.58 A4.452500000000001,4.452500000000001 0 0 1 641.15,267.50 L641.15,301.90 A4.452500000000001,4.452500000000001 0 0 1 638.80,305.82 L609.00,321.75 A4.452500000000001,4.452500000000001 0 0 1 604.80,321.75 L575.00,305.82 A4.452500000000001,4.452500000000001 0 0 1 572.65,301.90 L572.65,267.50 A4.452500000000001,4.452500000000001 0 0 1 575.00,263.58 Z" fill="#fbb318" filter="url(#sh2)"/>
<path d="M670.76,259.14 A3.237,3.237 0 0 1 673.84,259.14 L695.50,270.84 A3.237,3.237 0 0 1 697.20,273.69 L697.20,298.71 A3.237,3.237 0 0 1 695.50,301.56 L673.84,313.26 A3.237,3.237 0 0 1 670.76,313.26 L649.10,301.56 A3.237,3.237 0 0 1 647.40,298.71 L647.40,273.69 A3.237,3.237 0 0 1 649.10,270.84 Z" fill="#fbb318" filter="url(#sh2)"/>
<path d="M96.64,981.82 A5.453500000000001,5.453500000000001 0 0 1 101.76,981.82 L138.26,1001.23 A5.453500000000001,5.453500000000001 0 0 1 141.15,1006.05 L141.15,1048.15 A5.453500000000001,5.453500000000001 0 0 1 138.26,1052.97 L101.76,1072.38 A5.453500000000001,5.453500000000001 0 0 1 96.64,1072.38 L60.14,1052.97 A5.453500000000001,5.453500000000001 0 0 1 57.25,1048.15 L57.25,1006.05 A5.453500000000001,5.453500000000001 0 0 1 60.14,1001.23 Z" fill="#fbb318" filter="url(#sh2)"/>
<path d="M178.41,989.05 A4.4395,4.4395 0 0 1 182.59,989.05 L212.30,1004.94 A4.4395,4.4395 0 0 1 214.65,1008.85 L214.65,1043.15 A4.4395,4.4395 0 0 1 212.30,1047.06 L182.59,1062.95 A4.4395,4.4395 0 0 1 178.41,1062.95 L148.70,1047.06 A4.4395,4.4395 0 0 1 146.35,1043.15 L146.35,1008.85 A4.4395,4.4395 0 0 1 148.70,1004.94 Z" fill="#fbb318" filter="url(#sh2)"/>
<path d="M243.47,1000.45 A3.224,3.224 0 0 1 246.53,1000.45 L268.11,1012.10 A3.224,3.224 0 0 1 269.80,1014.94 L269.80,1039.86 A3.224,3.224 0 0 1 268.11,1042.70 L246.53,1054.35 A3.224,3.224 0 0 1 243.47,1054.35 L221.89,1042.70 A3.224,3.224 0 0 1 220.20,1039.86 L220.20,1014.94 A3.224,3.224 0 0 1 221.89,1012.10 Z" fill="#fbb318" filter="url(#sh2)"/>
<path d="M521.50,265.65 L521.50,259.30 L530.10,259.30 L530.10,265.65 A20.9,20.9 0 0 1 537.22,268.60 L541.71,264.11 L547.79,270.19 L543.30,274.68 A20.9,20.9 0 0 1 546.25,281.80 L552.60,281.80 L552.60,290.40 L546.25,290.40 A20.9,20.9 0 0 1 543.30,297.52 L547.79,302.01 L541.71,308.09 L537.22,303.60 A20.9,20.9 0 0 1 530.10,306.55 L530.10,312.90 L521.50,312.90 L521.50,306.55 A20.9,20.9 0 0 1 514.38,303.60 L509.89,308.09 L503.81,302.01 L508.30,297.52 A20.9,20.9 0 0 1 505.35,290.40 L499.00,290.40 L499.00,281.80 L505.35,281.80 A20.9,20.9 0 0 1 508.30,274.68 L503.81,270.19 L509.89,264.11 L514.38,268.60 A20.9,20.9 0 0 1 521.50,265.65 Z" fill="none" stroke="#fff" stroke-width="1.9" stroke-linejoin="round"/>
<circle cx="525.8" cy="286.1" r="16" fill="none" stroke="#fff" stroke-width="1.7"/>
<circle cx="525.8" cy="286.1" r="13.3" fill="none" stroke="#fff" stroke-width="1.5"/>
<text x="525.8" y="293.1" font-size="21" fill="#fff" text-anchor="middle" textLength="9.6" lengthAdjust="spacingAndGlyphs">$</text>
<g fill="none" stroke="#fff" stroke-width="2.5" stroke-linecap="round" stroke-linejoin="round">
<path d="M593.6,264.4 H587 C586.2,272 587.5,283 594,289.5 C596,291.5 598,292.5 598.7,292.5 C600,292.5 602,291 604,289 C610,283 611.2,272 610.5,264.4 H604.6"/>
<path d="M598.7,292.5 C598.7,299 601,306.5 609,307.5 C616,308 620.5,303 622.8,297.5"/>
</g>
<circle cx="623.7" cy="293.9" r="3.9" fill="#fff"/>
<circle cx="623.7" cy="280" r="6.8" fill="#fff"/>
<path d="M623.7,276.6 V283.4 M620.3,280 H627.1" stroke="#fbb318" stroke-width="1.6"/>
<g fill="none" stroke="#fff" stroke-width="1.3" stroke-linejoin="round">
<circle cx="662" cy="274.7" r="2.6"/>
<circle cx="671.4" cy="274.7" r="2.6"/>
<circle cx="681" cy="274.7" r="2.6"/>
<path d="M665.8,280.8 C667,279.5 669.5,280 671.4,283 C673.3,280 675.8,279.5 677.1,280.8 C678,286 675.5,292 673.4,297.5 C672.8,299.5 670,299.5 669.4,297.5 C667.3,292 665,286 665.8,280.8 Z"/>
<path d="M663.8,280.5 C660,279.5 657.5,281 657.3,283.5 C657,287 658.5,290 659.8,291 L660.2,296.2 L661.5,296.2"/>
<path d="M679,280.5 C682.8,279.5 685.3,281 685.5,283.5 C685.8,287 684.3,290 683,291 L682.6,296.2 L681.3,296.2"/>
<ellipse cx="671.5" cy="300.4" rx="10.3" ry="2.8"/>
</g>
<g fill="#fff">
<rect x="68.9" y="1016" width="13.6" height="33.5"/>
<rect x="85.8" y="999.7" width="26.4" height="49.8"/>
<rect x="114.7" y="1016" width="14.3" height="33.5"/>
</g>
<g fill="#fbb318">
<rect x="97.6" y="1004.7" width="2.4" height="10.4"/><rect x="93.6" y="1008.7" width="10.4" height="2.4"/>
<rect x="73.4" y="1022.5" width="5.2" height="3.2"/>
<rect x="119.2" y="1022.5" width="5.4" height="3.2"/>
<rect x="73.4" y="1031" width="5.2" height="3.2"/>
<rect x="119.2" y="1031" width="5.4" height="3.2"/>
<rect x="73.4" y="1039.5" width="5.2" height="3.2"/>
<rect x="119.2" y="1039.5" width="5.4" height="3.2"/>
<rect x="90.6" y="1022.5" width="5.6" height="3.2"/><rect x="101.4" y="1022.5" width="5.6" height="3.2"/>
<rect x="90.6" y="1031" width="5.6" height="3.2"/><rect x="101.4" y="1031" width="5.6" height="3.2"/>
<rect x="93.2" y="1041.6" width="5.3" height="5"/><rect x="99.3" y="1041.6" width="5.3" height="5"/>
</g>
<g fill="#fff">
<path d="M179.7,1000.7 L185.2,1008.6 H182.5 V1016.5 H176.89999999999998 V1008.6 H174.2 Z"/>
<path d="M165.9,1007.9 L170.20000000000002,1014.1 H167.9 V1021.5 H163.9 V1014.1 H161.6 Z"/>
<path d="M193.5,1007.9 L197.8,1014.1 H195.5 V1021.5 H191.5 V1014.1 H189.2 Z"/>
<path d="M158.9,1043.4 A20.8,20.8 0 0 1 200.5,1043.4 H192.6 V1040.2 H195.5 A15.9,15.9 0 0 0 163.9,1040.2 H166.8 V1043.4 Z"/>
<rect x="178.6" y="1024.5" width="2.2" height="4.2"/>
<path d="M167.4,1030.2 L169,1028.8 L172,1031.8 L170.4,1033.2 Z"/>
<circle cx="179.6" cy="1041.4" r="4.4"/>
<path d="M176.8,1039.4 L189.6,1031.6 L190.4,1032.6 L182,1043.8 Z"/>
</g>
<path d="M237.2,1030.5 V1019.5 C237.2,1014.5 241,1012 245.2,1012 C249.5,1012 253.1,1014.5 253.1,1019.5 V1030.5 Z" fill="#fff"/>
<path d="M239.6,1022 C241.5,1021.5 245,1020 247.5,1018 C249,1019.5 250.3,1020.5 250.6,1021.8 C250.6,1026.5 248,1030.5 245,1030.5 C242,1030.5 239.6,1026.5 239.6,1022 Z" fill="#fbb318"/>
<path d="M231,1042.5 V1037 C231,1034 233.5,1032.3 237,1031.6 L240.4,1031 L245,1036.5 L249.6,1031 L253,1031.6 C256.5,1032.3 258.9,1034 258.9,1037 V1042.5 Z" fill="#fff"/>
<path d="M237.5,1032 C236.5,1034 236.5,1036 237.2,1037.5 M252,1032 C254,1034 254.5,1037 253.2,1039.2 M250.2,1039.2 C249.5,1037 250.2,1034 252,1032" fill="none" stroke="#fbb318" stroke-width="0.9"/>
<circle cx="237.4" cy="1038.4" r="1.3" fill="#fbb318"/>
<text x="20.3" y="1132.8" font-size="13.5" fill="#111" font-weight="bold" textLength="73" lengthAdjust="spacingAndGlyphs">Learn More:</text>
<text x="20.3" y="1149.4" font-size="14" fill="#2f7dd1" textLength="191.7" lengthAdjust="spacingAndGlyphs" text-decoration="underline">Contact-Us@sullivancotter.com</text>
<text x="19.5" y="1168" font-size="9.5" fill="#333" textLength="135.5" lengthAdjust="spacingAndGlyphs">Copyright © 2021 by SullivanCotter</text>
<g filter="url(#cs)"><rect x="230.4" y="1115.4" width="300" height="56.3" fill="#ef7b22"/></g>
<text x="380.4" y="1138.3" font-size="14" fill="#fff" font-weight="bold" text-anchor="middle" textLength="262" lengthAdjust="spacingAndGlyphs">2021 Survey Now Open for Participation</text>
<text x="379.4" y="1158.3" font-size="14.5" fill="#fff" text-anchor="middle" textLength="77.2" lengthAdjust="spacingAndGlyphs">Learn More</text>
<clipPath id="lg"><polygon points="548.3,1138.5 560.5,1127 572.7,1138.5 560.5,1150"/></clipPath>
<polygon points="560.5,1127 572.7,1138.5 560.5,1150" fill="#1778c2"/>
<g clip-path="url(#lg)" fill="#1778c2"><polygon points="547,1139 561,1126 561,1129 547,1142"/>
<rect x="557.5" y="1125" width="1.6" height="30"/>
<rect x="554.1" y="1125" width="1.6" height="30"/>
<rect x="550.7" y="1125" width="1.6" height="30"/>
</g>
<text x="578.6" y="1155" font-size="25" fill="#1778c2" font-weight="bold" textLength="94.1" lengthAdjust="spacingAndGlyphs">Sullivan</text>
<text x="672.9" y="1155" font-size="25" fill="#f0843a" textLength="70.5" lengthAdjust="spacingAndGlyphs">Cotter</text>
</svg></body></html>
